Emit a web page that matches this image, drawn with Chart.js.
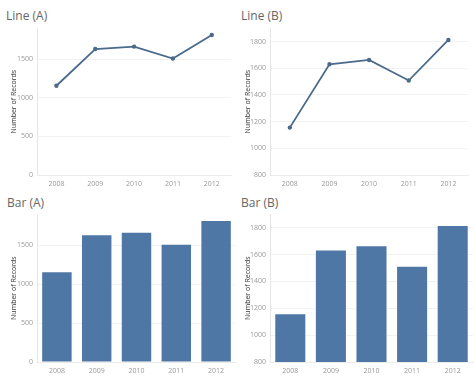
<!DOCTYPE html>
<html><head><meta charset="utf-8">
<script src="https://cdn.jsdelivr.net/npm/chart.js@4"></script>
<style>
html,body{margin:0;padding:0;background:#fff;width:474px;height:383px;overflow:hidden;font-family:"Open Sans",Lato,sans-serif;}
.t{position:absolute;font-size:12px;color:#666;line-height:1;white-space:nowrap;}
canvas{position:absolute;}
</style></head><body>
<div class="t" style="left:6px;top:10px">Line (A)</div>
<div class="t" style="left:241px;top:10px">Line (B)</div>
<div class="t" style="left:7px;top:197px">Bar (A)</div>
<div class="t" style="left:241px;top:197px">Bar (B)</div>
<div style="position:absolute;left:0;top:20px;width:237px;height:173px"><canvas id="c1"></canvas></div>
<div style="position:absolute;left:237px;top:20px;width:237px;height:173px"><canvas id="c2"></canvas></div>
<div style="position:absolute;left:0;top:206px;width:237px;height:174px"><canvas id="c3"></canvas></div>
<div style="position:absolute;left:237px;top:206px;width:237px;height:174px"><canvas id="c4"></canvas></div>
<script>
const years = ['2008','2009','2010','2011','2012'];
const records = [1155, 1630, 1662, 1508, 1812];
const ticksA = [0, 500, 1000, 1500];
const ticksB = [800, 1000, 1200, 1400, 1600, 1800];
const axisTitle = 'Number of Records';

function make(id, type, tickVals, yMin, yMax, yw, tpad) {
  const isLine = type === 'line';
  new Chart(document.getElementById(id), {
    type: type,
    data: {
      labels: years,
      datasets: [{
        data: records,
        borderColor: isLine ? '#4a6a8b' : '#4e77a5',
        backgroundColor: isLine ? '#4a6a8b' : '#4e77a5',
        borderWidth: isLine ? 1.8 : 0,
        pointRadius: isLine ? 1.3 : 0,
        tension: 0,
        categoryPercentage: 1,
        barPercentage: 0.74
      }]
    },
    options: {
      responsive: true,
      maintainAspectRatio: false,
      animation: false,
      layout: { padding: { top: 8, right: 1, left: 0, bottom: 0 } },
      plugins: { legend: { display: false }, tooltip: { enabled: false } },
      scales: {
        x: {
          offset: true,
          grid: { display: false, drawTicks: false },
          border: { display: true, color: '#ececec' },
          ticks: { color: '#999', font: { size: 7, family: 'Open Sans' }, padding: 5, maxRotation: 0 },
          afterFit: s => { s.height = 18; }
        },
        y: {
          min: yMin, max: yMax,
          grid: { color: '#f2f2f2', drawTicks: false },
          border: { display: true, color: '#e6e6e6' },
          ticks: { color: '#999', font: { size: 7, family: 'Open Sans' }, padding: 4, callback: v => String(v) },
          afterBuildTicks: s => { s.ticks = tickVals.map(v => ({ value: v })); },
          title: { display: true, text: axisTitle, color: '#333', font: { size: 7, family: 'Open Sans' }, padding: { top: tpad, bottom: 0 } },
          afterFit: s => { s.width = yw; }
        }
      }
    }
  });
}
make('c1', 'line', ticksA, 0, 1900, 37, 10);
make('c2', 'line', ticksB, 800, 1900, 33, 7);
make('c3', 'bar', ticksA, 0, 1900, 37, 10);
make('c4', 'bar', ticksB, 800, 1900, 33, 7);
</script>
</body></html>
